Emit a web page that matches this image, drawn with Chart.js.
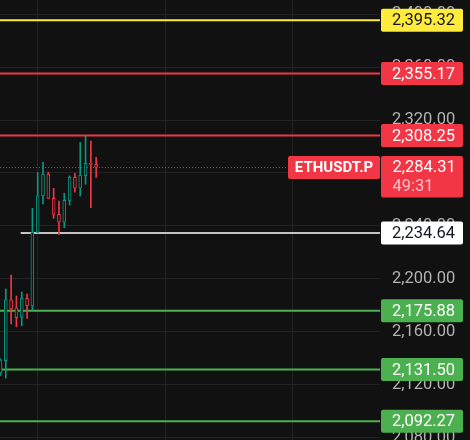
<!DOCTYPE html>
<html>
<head>
<meta charset="utf-8">
<script src="https://cdn.jsdelivr.net/npm/chart.js@4"></script>
<style>
  html, body { margin: 0; padding: 0; background: #111111; }
  #wrap { width: 470px; height: 440px; }
</style>
</head>
<body>
<div id="wrap"><canvas id="chart"></canvas></div>
<script>
// Candles (ETHUSDT.P)
const opens  = [2128.8, 2138.1, 2184.0, 2178.1, 2170.9, 2185.3, 2179.4, 2235.1, 2262.6, 2279.2, 2260.8, 2248.7, 2242.7, 2259.3, 2276.7, 2268.4, 2277.9, 2287.3, 2286.5];
const highs  = [2139.5, 2192.3, 2202.8, 2187.0, 2190.0, 2188.5, 2253.3, 2280.2, 2288.0, 2280.5, 2268.4, 2258.8, 2264.6, 2277.7, 2279.7, 2303.1, 2308.1, 2304.1, 2291.8];
const lows   = [2127.0, 2125.0, 2165.8, 2163.8, 2164.5, 2170.1, 2176.4, 2234.6, 2256.5, 2260.8, 2245.7, 2233.6, 2238.6, 2255.8, 2265.4, 2262.6, 2271.4, 2253.7, 2276.7];
const closes = [2138.6, 2184.0, 2177.2, 2170.6, 2185.3, 2179.7, 2235.1, 2262.6, 2279.2, 2260.8, 2248.7, 2242.7, 2259.3, 2276.7, 2268.4, 2278.4, 2287.3, 2286.5, 2284.31];

// Horizontal levels
const levelValues = [2395.32, 2355.17, 2308.25, 2234.64, 2175.88, 2131.50, 2092.27];
const levelColors = ['#FFEB3B', '#F23645', '#F23645', '#FFFFFF', '#4CAF50', '#4CAF50', '#4CAF50'];
const levelTextColors = ['#131722', '#FFFFFF', '#FFFFFF', '#131722', '#FFFFFF', '#FFFFFF', '#FFFFFF'];
const levelStarts = [-1, -1, -1, 3.8, -1, -1, -1];

// Axis ticks
const priceTicks = [2080, 2120, 2160, 2200, 2240, 2280, 2320, 2360, 2400];
const timeTicks = [19, 43, 67];

const symbol = 'ETHUSDT.P';
const lastPrice = 2284.31;
const countdown = '49:31';

const UP = '#089981';
const DOWN = '#F23645';
const FONT = 'Roboto, "Noto Sans", sans-serif';

const idx = opens.map((_, i) => i);
const candleColor = i => closes[i] >= opens[i] ? UP : DOWN;
const fmt = v => v.toLocaleString('en-US', { minimumFractionDigits: 2, maximumFractionDigits: 2 });

const levelSets = levelValues.map((v, k) => ({
    type: 'line',
    data: [{ x: levelStarts[k], y: v }, { x: 80, y: v }],
    borderColor: levelColors[k],
    borderWidth: k === 3 ? 1.5 : 2,
    pointRadius: 0,
    order: 3,
}));

// Labels drawn on top of the price axis
const overlay = {
    id: 'overlay',
    afterDraw(chart) {
        const { ctx, chartArea, scales } = chart;
        const y = scales.y;
        const boxL = chartArea.right + 1, boxR = 463;
        ctx.save();

        // dotted last-price line
        const py = Math.round(y.getPixelForValue(lastPrice)) + 0.5;
        ctx.strokeStyle = 'rgba(242,54,69,0.85)';
        ctx.lineWidth = 1;
        ctx.setLineDash([1, 2]);
        ctx.beginPath();
        ctx.moveTo(chartArea.left, py);
        ctx.lineTo(288, py);
        ctx.stroke();
        ctx.setLineDash([]);

        ctx.textBaseline = 'middle';
        ctx.textAlign = 'center';
        ctx.font = '16.5px ' + FONT;
        levelValues.forEach((v, k) => {
            const ly = y.getPixelForValue(v);
            ctx.fillStyle = levelColors[k];
            ctx.beginPath();
            ctx.roundRect(boxL, ly - 11.5, boxR - boxL, 23, 2);
            ctx.fill();
            ctx.fillStyle = levelTextColors[k];
            ctx.fillText(fmt(v), 423.5, ly + 1);
        });

        // symbol tag + last price
        ctx.fillStyle = DOWN;
        ctx.beginPath();
        ctx.roundRect(288, py - 11.5, chartArea.right - 288, 23, 2);
        ctx.fill();
        ctx.beginPath();
        ctx.roundRect(boxL, py - 11.5, boxR - boxL, 41.5, 2);
        ctx.fill();
        ctx.fillStyle = '#FFFFFF';
        ctx.font = 'bold 15px ' + FONT;
        ctx.fillText(symbol, 334, py + 1);
        ctx.font = '16.5px ' + FONT;
        ctx.textAlign = 'left';
        ctx.fillText(fmt(lastPrice), 392.5, py);
        ctx.fillStyle = 'rgba(255,255,255,0.7)';
        ctx.fillText(countdown, 392.5, py + 19);
        ctx.restore();
    }
};

new Chart(document.getElementById('chart'), {
    type: 'bar',
    data: {
        datasets: [
            {
                label: 'body',
                data: idx.map(i => ({ x: i, y: [opens[i], closes[i]] })),
                backgroundColor: '#141414',
                borderColor: ctx => candleColor(ctx.dataIndex),
                borderWidth: 1,
                borderSkipped: false,
                barThickness: 3,
                grouped: false,
                order: 1,
            },
            {
                label: 'wick',
                data: idx.map(i => ({ x: i, y: [lows[i], highs[i]] })),
                backgroundColor: ctx => candleColor(ctx.dataIndex),
                borderWidth: 0,
                barThickness: 1,
                grouped: false,
                order: 2,
            },
            ...levelSets,
        ]
    },
    options: {
        responsive: true,
        maintainAspectRatio: false,
        animation: false,
        layout: { padding: 0 },
        plugins: {
            legend: { display: false },
            tooltip: { enabled: false },
        },
        scales: {
            x: {
                type: 'linear',
                min: -0.09,
                max: 71.38,
                offset: false,
                afterBuildTicks: s => { s.ticks = timeTicks.map(v => ({ value: v })); },
                ticks: { display: false },
                grid: { color: '#232323', drawTicks: false },
                border: { display: false },
            },
            y: {
                position: 'right',
                min: 2078.15,
                max: 2410.70,
                afterBuildTicks: s => { s.ticks = priceTicks.map(v => ({ value: v })); },
                afterFit: s => { s.width = 90; s.paddingTop = 0; s.paddingBottom = 0; },
                ticks: {
                    color: '#B2B2B2',
                    font: { family: FONT, size: 16.5 },
                    padding: 12,
                    callback: v => fmt(v),
                },
                grid: { color: '#232323', drawTicks: false },
                border: { display: false },
            }
        }
    },
    plugins: [overlay]
});
</script>
</body>
</html>
